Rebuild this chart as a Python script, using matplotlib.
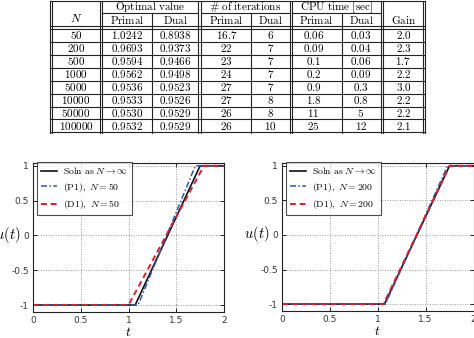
import matplotlib
matplotlib.use("Agg")
import matplotlib.pyplot as plt

plt.rcParams["mathtext.fontset"] = "cm"
plt.rcParams["axes.unicode_minus"] = False
plt.rcParams["font.family"] = ["DejaVu Sans"]

# ---- table data ----
N_values = ["50", "200", "500", "1000", "5000", "10000", "50000", "100000"]
opt_primal = ["1.0242", "0.9693", "0.9594", "0.9562", "0.9536", "0.9533", "0.9530", "0.9532"]
opt_dual = ["0.8938", "0.9373", "0.9466", "0.9498", "0.9523", "0.9526", "0.9529", "0.9529"]
iter_primal = ["16.7", "22", "23", "24", "27", "27", "26", "26"]
iter_dual = ["6", "7", "7", "7", "7", "8", "8", "10"]
cpu_primal = ["0.06", "0.09", "0.1", "0.2", "0.9", "1.8", "11", "25"]
cpu_dual = ["0.03", "0.04", "0.06", "0.09", "0.3", "0.8", "5", "12"]
gain = ["2.0", "2.3", "1.7", "2.2", "3.0", "2.2", "2.2", "2.1"]

# ---- control profiles u(t) ----
t_soln = [0.0, 1.07, 1.75, 2.0]
u_soln = [-1.0, -1.0, 1.0, 1.0]

t_p1_50 = [0.0, 1.10, 1.70, 2.0]
u_p1_50 = [-1.0, -1.0, 1.0, 1.0]
t_d1_50 = [0.0, 1.00, 1.79, 2.0]
u_d1_50 = [-1.0, -1.0, 1.0, 1.0]

t_p1_200 = [0.0, 1.08, 1.73, 2.0]
u_p1_200 = [-1.0, -1.0, 1.0, 1.0]
t_d1_200 = [0.0, 1.06, 1.75, 2.0]
u_d1_200 = [-1.0, -1.0, 1.0, 1.0]


def cm(s):
    return r"$\mathrm{" + s.replace(" ", r"\ ").replace("#", r"\#") + "}$"


W, H = 474, 338
fig = plt.figure(figsize=(W / 100, H / 100), dpi=100)
fig.patch.set_facecolor("white")

# ---- table drawn in pixel coordinates ----
tab = fig.add_axes([0, 0, 1, 1])
tab.set_xlim(0, W)
tab.set_ylim(H, 0)
tab.axis("off")
tab.patch.set_visible(False)

lc = "#222222"
lw = 0.8
fs = 8

y_top = 0.6
y_cline = 13.3
y_hd1, y_hd2 = 26.4, 29.0
row_step = (132.7 - 29.3) / 8
y_bottom = 132.7

# vertical rules (double where the table separates column groups)
doubles = [(50.0, 52.3), (100.0, 102.3), (198.3, 200.8), (290.0, 292.3), (381.0, 383.5), (422.7, 425.0)]
singles = [152.0, 251.0, 341.7]
for a, b in doubles:
    for x in (a, b):
        tab.plot([x, x], [y_top, y_bottom], color=lc, lw=lw)
for x in singles:
    tab.plot([x, x], [y_cline, y_bottom], color=lc, lw=lw)

# horizontal rules
tab.plot([50.0, 425.0], [y_top, y_top], color=lc, lw=lw)
for x0, x1 in [(102.3, 198.3), (200.8, 290.0), (292.3, 381.0)]:
    tab.plot([x0, x1], [y_cline, y_cline], color=lc, lw=lw)
for y in (y_hd1, y_hd2):
    tab.plot([50.0, 425.0], [y, y], color=lc, lw=lw)
for i in range(1, 9):
    y = y_hd2 + i * row_step
    tab.plot([50.0, 425.0], [y, y], color=lc, lw=lw)

# header text
tab.text(150.3, 7.0, cm("Optimal value"), ha="center", va="center", fontsize=fs)
tab.text(245.4, 7.0, cm("# of iterations"), ha="center", va="center", fontsize=fs)
tab.text(336.6, 7.0, cm("CPU time [sec]"), ha="center", va="center", fontsize=fs)
tab.text(76.0, 18.5, r"$N$", ha="center", va="center", fontsize=fs + 0.5)
tab.text(403.5, 19.5, cm("Gain"), ha="center", va="center", fontsize=fs)
sub_centers = [127.0, 175.2, 226.0, 270.5, 316.5, 361.3]
for i, xc in enumerate(sub_centers):
    tab.text(xc, 19.5, cm("Primal" if i % 2 == 0 else "Dual"), ha="center", va="center", fontsize=fs)

# body text
columns = [N_values, opt_primal, opt_dual, iter_primal, iter_dual, cpu_primal, cpu_dual, gain]
col_x = [76.0, 127.5, 175.2, 226.5, 270.5, 313.5, 361.0, 403.5]
for c, (vals, xc) in enumerate(zip(columns, col_x)):
    for r, v in enumerate(vals):
        yc = y_hd2 + (r + 0.5) * row_step
        tab.text(xc, yc, cm(v), ha="center", va="center", fontsize=fs)


# ---- plots ----
def setup_axes(ax, ylab_x):
    ax.set_xlim(0, 2)
    ax.set_ylim(-1.1, 1.04)
    ax.set_xticks([0, 0.5, 1, 1.5, 2])
    ax.set_xticklabels(["0", "0.5", "1", "1.5", "2"])
    ax.set_yticks([-1, -0.5, 0, 0.5, 1])
    ax.set_yticklabels(["-1", "-0.5", "0", "0.5", "1"])
    ax.tick_params(direction="in", top=True, right=True, labelsize=6.5,
                   length=3, width=0.6, pad=3, labelcolor="#333333")
    ax.grid(True, linestyle=(0, (1, 2)), color="#777777", linewidth=0.6)
    for s in ax.spines.values():
        s.set_linewidth(0.8)
        s.set_color("#222222")
    ax.set_xlabel(r"$t$", fontsize=10)
    ax.xaxis.set_label_coords(0.5, -0.085)
    ax.set_ylabel(r"$u(t)$", fontsize=10.5, rotation=0, ha="center", va="center")
    ax.yaxis.set_label_coords(ylab_x, 0.52)
    leg = ax.legend(loc="upper left", bbox_to_anchor=(0.02, 1.01), fontsize=7,
                    frameon=True, fancybox=False, edgecolor="#222222",
                    borderpad=0.4, labelspacing=0.45, handlelength=1.7,
                    handletextpad=0.6, borderaxespad=0.0)
    leg.get_frame().set_linewidth(0.8)


axL = fig.add_axes([33 / W, 26 / H, 191 / W, 149 / H])
axL.plot(t_soln, u_soln, color="#111111", lw=1.2, label=r"$\mathrm{Soln\ as\ }N \to \infty$")
axL.plot(t_p1_50, u_p1_50, color="#3355aa", lw=1.1, linestyle=(0, (4, 1.5, 1, 1.5)),
         label=r"$\mathrm{(P1),\ }N = 50$")
axL.plot(t_d1_50, u_d1_50, color="#d42030", lw=1.4, linestyle=(0, (3, 2)),
         label=r"$\mathrm{(D1),\ }N = 50$")
setup_axes(axL, -0.13)

axR = fig.add_axes([282 / W, 27 / H, 191.5 / W, 148 / H])
axR.plot(t_soln, u_soln, color="#111111", lw=1.2, label=r"$\mathrm{Soln\ as\ }N \to \infty$")
axR.plot(t_p1_200, u_p1_200, color="#3355aa", lw=1.1, linestyle=(0, (4, 1.5, 1, 1.5)),
         label=r"$\mathrm{(P1),\ }N = 200$")
axR.plot(t_d1_200, u_d1_200, color="#d42030", lw=1.4, linestyle=(0, (3, 2)),
         label=r"$\mathrm{(D1),\ }N = 200$")
setup_axes(axR, -0.13)

fig.savefig("out.png", dpi=100, facecolor="white")
